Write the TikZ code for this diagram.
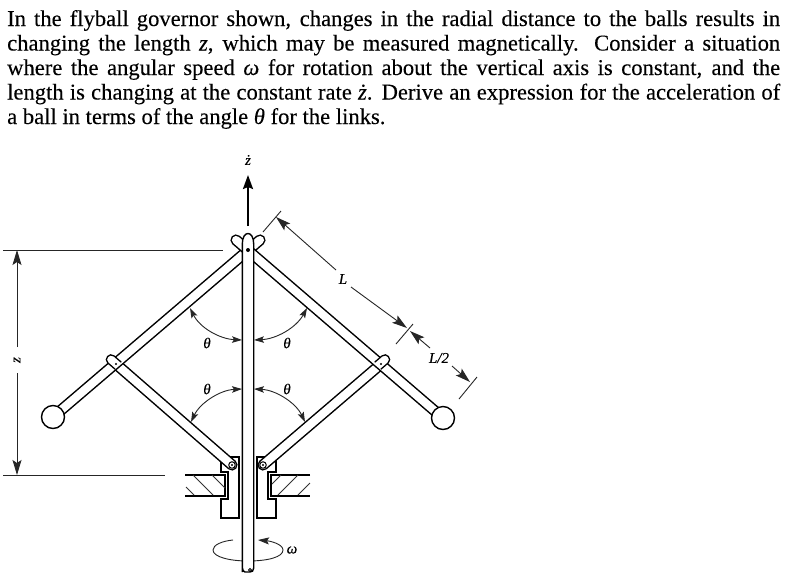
\documentclass[tikz,border=0pt]{standalone}
\usepackage{fontspec}
\setmainfont[FakeBold=0.15]{Liberation Serif}
\usetikzlibrary{arrows.meta}
\tikzset{
 para/.style={anchor=base west,inner sep=0pt,font=\fontsize{22.6}{24}\selectfont},
 lbl/.style={inner sep=0pt,font=\fontsize{15}{16}\selectfont\itshape},
 rod/.style={draw=black,line width=1.5pt,double=white,double distance=8.2pt,line cap=round},
 thinl/.style={draw=black!85,line width=0.9pt},
 dimtip/.style={-{Stealth[length=15pt,width=9pt,inset=3pt]}},
 arctips/.style={{Stealth[length=10pt,width=6.5pt,inset=2pt]}-{Stealth[length=10pt,width=6.5pt,inset=2pt]}},
 smalltip/.style={-{Stealth[length=11pt,width=7pt,inset=2pt]}},
 edgel/.style={draw=black,line width=1.4pt},
 hatchl/.style={draw=black!80,line width=0.8pt},
 pinn/.style={circle,draw=black,fill=white,line width=1pt,minimum size=6.5pt,inner sep=0pt},
 ballb/.style={circle,draw=black,fill=white,line width=1.4pt,minimum size=23pt,inner sep=0pt}
}
\begin{document}
\begin{tikzpicture}[x=1pt,y=-1pt]
\useasboundingbox (0,0) rectangle (786,584);
\fill[white] (0,0) rectangle (786,584);
% paragraph
\node[para] (t1) at (7,26) {\makebox[773pt][s]{In the flyball governor shown, changes in the radial distance to the balls results in}};
\node[para] (t2) at (7,50.5) {\makebox[773pt][s]{changing the length \textit{z}, which may be measured magnetically. Consider a situation}};
\node[para] (t3) at (7,75) {\makebox[773pt][s]{where the angular speed \textit{ω} for rotation about the vertical axis is constant, and the}};
\node[para] (t4) at (7,99.5) {\makebox[773pt][s]{length is changing at the constant rate \textit{ż}. Derive an expression for the acceleration of}};
\node[para] (t5) at (7,124) {a ball in terms of the angle \textit{θ} for the links.};
% coordinates
\coordinate (P) at (248,250);
\coordinate (BL) at (53,417);
\coordinate (BR) at (443,418);
\coordinate (LL) at (236,240);
\coordinate (LR) at (260,240);
\coordinate (PL) at (232,465);
\coordinate (PR) at (263,465);
\coordinate (EL) at (116,364);
\coordinate (ER) at (381,364);
% extension lines
\draw[thinl] (3,250) -- (223,250);
\draw[thinl] (3,475) -- (165,475);
% z dimension
\node[lbl,rotate=90] (zl) at (17,360) {z};
\coordinate (zt) at (17,250);
\coordinate (zb) at (17,475);
\coordinate (zu) at (17,347);
\coordinate (zv) at (17,373);
\draw[thinl,dimtip] (zu) -- (zt);
\draw[thinl,dimtip] (zv) -- (zb);
% zdot arrow
\node[lbl] (zd) at (248,160) {ż};
\coordinate (za) at (248,226);
\coordinate (zc) at (248,175);
\draw[line width=2.2pt,-{Stealth[length=14pt,width=10pt,inset=2pt]}] (za) -- (zc);
% slider blocks
\draw[edgel,fill=white] (221,457) -- (239,457) -- (239,518) -- (221,518) -- (221,499) -- (228,499) -- (228,472) -- (221,472) -- cycle;
\draw[edgel,fill=white] (276,457) -- (257,457) -- (257,518) -- (276,518) -- (276,499) -- (268,499) -- (268,472) -- (276,472) -- cycle;
% table
\draw[edgel] (185,475) -- (225,475) -- (225,496) -- (185,496);
\draw[edgel] (310,475) -- (271,475) -- (271,496) -- (310,496);
\draw[hatchl] (186,487) -- (194,495) (193,475) -- (213,495) (212,475) -- (225,488);
\draw[hatchl] (272,484) -- (281,475) (278,495) -- (298,475) (298,495) -- (310,483);
% lower links
\draw[rod] (PL) -- (EL);
\draw[rod] (PR) -- (ER);
% pins
\node[pinn] (pl) at (PL) {};
\node[pinn] (pr) at (PR) {};
\fill (PL) circle (1.2pt) (PR) circle (1.2pt);
% upper rods
\draw[rod] (BL) -- (LR);
\draw[rod] (BR) -- (LL);
% capsule ends of the lower links
\draw[edgel,line width=1.3pt,fill=white] (121.3,362.2) -- (114.1,356) .. controls (109.6,352) and (103.4,359) .. (107.9,363) -- (115.1,369.2);
\draw[edgel,line width=1.3pt,fill=white] (374.7,362.2) -- (381.9,356) .. controls (386.4,352) and (392.6,359) .. (388.1,363) -- (380.9,369.2);
\fill (EL) circle (1.2pt) (ER) circle (1.2pt);
% balls
\node[ballb] (bl) at (BL) {};
\node[ballb] (br) at (BR) {};
% rotation arrow
\draw[thinl,smalltip] (233,540) .. controls (222,541) and (213,545) .. (213,550) .. controls (213,557) and (230,561) .. (248,561) .. controls (268,561) and (283,557) .. (283,550) .. controls (283,544) and (270,541) .. (258,540);
\node[lbl] (om) at (292,550) {ω};
% shaft
\draw[edgel,fill=white] (242.3,572) .. controls (242.3,572) and (242.3,245) .. (242.3,244) .. controls (242.3,230) and (253.7,230) .. (253.7,244) -- (253.7,568) .. controls (253.7,571) and (252,572) .. (250,572) -- (245,572) .. controls (243.5,572) and (242.3,570) .. (242.3,567) -- cycle;
\fill (P) circle (2pt);
\draw[line width=0.9pt] (250,570) circle (1.6pt);
% theta arcs
\draw[thinl,arctips] (190,308) .. controls (200,328) and (220,339) .. (242,340);
\draw[thinl,arctips] (307,308) .. controls (296,328) and (276,339) .. (254,340);
\draw[thinl,arctips] (191,422) .. controls (200,403) and (220,390) .. (242,389);
\draw[thinl,arctips] (305,422) .. controls (296,403) and (276,390) .. (254,389);
\node[lbl] (th1) at (207,343) {θ};
\node[lbl] (th2) at (287,343) {θ};
\node[lbl] (th3) at (207,389) {θ};
\node[lbl] (th4) at (287,389) {θ};
% L dimension
\coordinate (la) at (263,232); \coordinate (lb) at (281,211);
\draw[thinl] (la) -- (lb);
\coordinate (lc) at (396,344); \coordinate (ld) at (413,324);
\draw[thinl] (lc) -- (ld);
\coordinate (le) at (459,399); \coordinate (lf) at (477,377);
\draw[thinl] (le) -- (lf);
\node[lbl] (Lbl) at (343,279) {L};
\node[lbl] (Lh) at (439,358) {L/2};
\coordinate (t1a) at (276,217);
\coordinate (t2a) at (336,270);
\coordinate (t3a) at (351,287);
\coordinate (t4a) at (407,328);
\coordinate (t5a) at (410,331);
\coordinate (t6a) at (430,348);
\coordinate (t7a) at (452,366);
\coordinate (t8a) at (470,382);
\draw[thinl,dimtip] (t2a) -- (t1a);
\draw[thinl,dimtip] (t3a) -- (t4a);
\draw[thinl,dimtip] (t6a) -- (t5a);
\draw[thinl,dimtip] (t7a) -- (t8a);
\end{tikzpicture}
\end{document}
